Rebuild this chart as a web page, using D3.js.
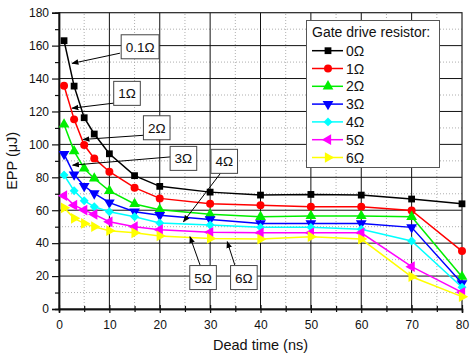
<!DOCTYPE html>
<html>
<head>
  <meta charset="utf-8">
  <title>EPP vs dead time</title>
  <script src="https://d3js.org/d3.v7.min.js"></script>
  <style>
    body { margin: 0; background: white; }
    text { font-family: "Liberation Sans", Arial, sans-serif; }
  </style>
</head>
<body>
  <div id="graphContainer"></div>
  <script>
    var deadTime = [1, 3, 5, 7, 10, 15, 20, 30, 40, 50, 60, 70, 80];
    var seriesNames = ["0\u03A9", "1\u03A9", "2\u03A9", "3\u03A9", "4\u03A9", "5\u03A9", "6\u03A9"];
    var epp0 = [163, 135.4, 116.2, 106.3, 94.3, 81, 74.5, 71, 69.2, 69.6, 69.2, 66.8, 63.9];
    var epp1 = [135.6, 115.2, 99.6, 91.5, 83.4, 73.7, 67.2, 64, 63, 62.1, 62.1, 59.9, 35.2];
    var epp2 = [112.1, 95.9, 85.4, 79.3, 71.8, 63.8, 60.3, 57.5, 56, 56.5, 56.5, 56, 19.6];
    var epp3 = [94.1, 81.7, 74.7, 70.2, 64.6, 59.1, 57, 54.4, 52, 52, 52, 49.6, 15.6];
    var epp4 = [81.4, 71.8, 65.8, 62.1, 59.1, 56, 52.2, 51, 49.6, 49.6, 48.4, 41.3, 13.2];
    var epp5 = [68.8, 63.1, 60.1, 57.5, 53, 50, 48.2, 46.6, 46.3, 46.3, 46.3, 25.7, 10.1];
    var epp6 = [61.5, 55.1, 52, 50, 47.6, 46.3, 44.4, 42.9, 42.5, 43.9, 42.5, 19.6, 7.5];
    var xTicks = [0, 10, 20, 30, 40, 50, 60, 70, 80];
    var yTicks = [0, 20, 40, 60, 80, 100, 120, 140, 160, 180];
    var legendTitle = "Gate drive resistor:";
    var xTitle = "Dead time (ns)";
    var yTitle = "EPP (\u03BCJ)";
    // callout labels: box centre, arrow tail and head, all in data units
    var noteLabels = ["0.1\u03A9", "1\u03A9", "2\u03A9", "3\u03A9", "4\u03A9", "5\u03A9", "6\u03A9"];
    var noteBox = [[16.1, 159.3], [13.5, 131], [19.4, 110.1], [24.7, 91.5], [32.8, 89.7], [28.6, 19.1], [36.7, 19.1]];
    var noteTail = [[12.1, 155.4], [11, 125.1], [17.1, 105.6], [22.5, 92.5], [32.1, 82.6], [28, 26.7], [34.9, 26.7]];
    var noteHead = [[2.6, 149.2], [2.6, 122], [4.8, 103], [2.7, 87.4], [24.7, 53], [26, 43.9], [33.4, 40.9]];

    var series = [epp0, epp1, epp2, epp3, epp4, epp5, epp6];
    var colors = ["#000000", "#ff0000", "#00ee00", "#0000ff", "#00ffff", "#ff00ff", "#ffff00"];
    var symbols = [
      { type: d3.symbolSquare, rot: 0, size: 46 },
      { type: d3.symbolCircle, rot: 0, size: 50 },
      { type: d3.symbolTriangle, rot: 0, size: 50 },
      { type: d3.symbolTriangle, rot: 180, size: 50 },
      { type: d3.symbolSquare, rot: 45, size: 40 },
      { type: d3.symbolTriangle, rot: -90, size: 50 },
      { type: d3.symbolTriangle, rot: 90, size: 50 }
    ];

    var width = 474, height = 362;
    var margin = { top: 12.7, right: 12, bottom: 53, left: 59 };
    var innerW = width - margin.left - margin.right;
    var innerH = height - margin.top - margin.bottom;

    var svg = d3.select("#graphContainer").append("svg")
      .attr("width", width)
      .attr("height", height);

    var x = d3.scaleLinear().domain([0, 80]).range([margin.left, margin.left + innerW]);
    var y = d3.scaleLinear().domain([0, 180]).range([margin.top + innerH, margin.top]);

    // minor grid (dotted)
    var grid = svg.append("g");
    grid.selectAll(".vminor").data(d3.range(5, 80, 10)).enter().append("line")
      .attr("x1", d => x(d)).attr("x2", d => x(d))
      .attr("y1", y(0)).attr("y2", y(180))
      .attr("stroke", "#9a9a9a").attr("stroke-width", 0.8).attr("stroke-dasharray", "1,2");
    grid.selectAll(".hminor").data(d3.range(10, 180, 20)).enter().append("line")
      .attr("x1", x(0)).attr("x2", x(80))
      .attr("y1", d => y(d)).attr("y2", d => y(d))
      .attr("stroke", "#9a9a9a").attr("stroke-width", 0.8).attr("stroke-dasharray", "1,2");
    // major grid
    grid.selectAll(".vmajor").data(xTicks.slice(1, -1)).enter().append("line")
      .attr("x1", d => x(d)).attr("x2", d => x(d))
      .attr("y1", y(0)).attr("y2", y(180))
      .attr("stroke", "#111").attr("stroke-width", 1);
    grid.selectAll(".hmajor").data(yTicks.slice(1, -1)).enter().append("line")
      .attr("x1", x(0)).attr("x2", x(80))
      .attr("y1", d => y(d)).attr("y2", d => y(d))
      .attr("stroke", "#111").attr("stroke-width", 1);

    // frame
    svg.append("rect")
      .attr("x", x(0)).attr("y", y(180))
      .attr("width", x(80) - x(0)).attr("height", y(0) - y(180))
      .attr("fill", "none").attr("stroke", "#222").attr("stroke-width", 1.2);

    // axes
    var xAxis = svg.append("g").attr("transform", "translate(0," + y(0) + ")")
      .call(d3.axisBottom(x).tickValues(xTicks).tickSize(4).tickPadding(7));
    var xMinor = svg.append("g").attr("transform", "translate(0," + y(0) + ")")
      .call(d3.axisBottom(x).tickValues(d3.range(5, 80, 10)).tickSize(3).tickFormat(""));
    xAxis.selectAll(".tick line").attr("y1", -4);
    xMinor.selectAll(".tick line").attr("y1", -3);
    var yAxis = svg.append("g").attr("transform", "translate(" + x(0) + ",0)")
      .call(d3.axisLeft(y).tickValues(yTicks).tickSize(7).tickPadding(3));
    var yMinor = svg.append("g").attr("transform", "translate(" + x(0) + ",0)")
      .call(d3.axisLeft(y).tickValues(d3.range(10, 180, 20)).tickSize(4).tickFormat(""));
    [xAxis, xMinor, yAxis, yMinor].forEach(function (g) {
      g.select(".domain").attr("stroke", "#111").attr("stroke-width", 1.4);
      g.selectAll(".tick line").attr("stroke", "#111").attr("stroke-width", 1.2);
      g.selectAll("text").attr("font-size", 12).attr("fill", "#111")
        .attr("font-family", "'Liberation Sans', Arial, sans-serif");
    });

    svg.append("text").attr("x", (x(0) + x(80)) / 2).attr("y", 350)
      .attr("text-anchor", "middle").attr("font-size", 14.5).attr("fill", "#111").text(xTitle);
    svg.append("text").attr("transform", "translate(17," + ((y(0) + y(180)) / 2) + ") rotate(-90)")
      .attr("text-anchor", "middle").attr("font-size", 14.5).attr("fill", "#111").text(yTitle);

    // series
    var line = d3.line().x((d, i) => x(deadTime[i])).y(d => y(d));
    series.forEach(function (vals, s) {
      var g = svg.append("g");
      g.append("path").attr("d", line(vals))
        .attr("fill", "none").attr("stroke", colors[s]).attr("stroke-width", 1.5);
      g.selectAll("path.pt").data(vals).enter().append("path").attr("class", "pt")
        .attr("d", d3.symbol().type(symbols[s].type).size(symbols[s].size))
        .attr("transform", (d, i) => "translate(" + x(deadTime[i]) + "," + y(d) + ") rotate(" + symbols[s].rot + ")")
        .attr("fill", colors[s]);
    });

    // callouts
    svg.append("defs").append("marker")
      .attr("id", "arrow").attr("viewBox", "0 0 10 10").attr("refX", 9).attr("refY", 5)
      .attr("markerWidth", 7).attr("markerHeight", 7).attr("markerUnits", "userSpaceOnUse")
      .attr("orient", "auto")
      .append("path").attr("d", "M0,1 L10,5 L0,9 Z").attr("fill", "#000");
    noteLabels.forEach(function (lab, i) {
      svg.append("line")
        .attr("x1", x(noteTail[i][0])).attr("y1", y(noteTail[i][1]))
        .attr("x2", x(noteHead[i][0])).attr("y2", y(noteHead[i][1]))
        .attr("stroke", "#000").attr("stroke-width", 1).attr("marker-end", "url(#arrow)");
      var cx = x(noteBox[i][0]), cy = y(noteBox[i][1]);
      var t = svg.append("text").attr("x", cx).attr("y", cy + 5)
        .attr("text-anchor", "middle").attr("font-size", 13.5).attr("fill", "#111").text(lab);
      var w = t.node().getComputedTextLength() + 9;
      svg.insert("rect", function () { return t.node(); })
        .attr("x", cx - w / 2).attr("y", cy - 12)
        .attr("width", w).attr("height", 24)
        .attr("fill", "white").attr("stroke", "#444").attr("stroke-width", 1);
    });

    // legend
    var lg = svg.append("g");
    lg.append("rect").attr("x", 306.5).attr("y", 20.5).attr("width", 133).attr("height", 147)
      .attr("fill", "white").attr("stroke", "#555").attr("stroke-width", 1);
    lg.append("text").attr("x", 312).attr("y", 37).attr("font-size", 14).attr("fill", "#111").text(legendTitle);
    seriesNames.forEach(function (name, s) {
      var ly = 50.7 + s * 17.8;
      lg.append("line").attr("x1", 312).attr("x2", 343).attr("y1", ly).attr("y2", ly)
        .attr("stroke", colors[s]).attr("stroke-width", 1.5);
      lg.append("path")
        .attr("d", d3.symbol().type(symbols[s].type).size(symbols[s].size))
        .attr("transform", "translate(328," + ly + ") rotate(" + symbols[s].rot + ")")
        .attr("fill", colors[s]);
      lg.append("text").attr("x", 346).attr("y", ly + 5).attr("font-size", 14).attr("fill", "#111").text(name);
    });
  </script>
</body>
</html>
